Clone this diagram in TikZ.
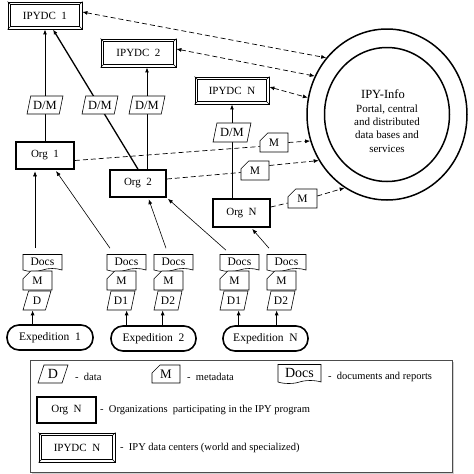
\documentclass[tikz,border=0pt]{standalone}
\usepackage{fontspec}
\setmainfont{Liberation Serif}
\usetikzlibrary{arrows.meta,shapes.geometric,shapes.misc,shapes.symbols}
\newcommand\fs[1]{\fontsize{#1}{#1}\selectfont}
\newcommand\bevelbox[1]{%
  \draw[line width=0.6pt] ([shift={(3pt,-3pt)}]#1.north west) rectangle ([shift={(-3pt,3pt)}]#1.south east);
  \draw[line width=0.5pt] (#1.north west) -- ([shift={(3pt,-3pt)}]#1.north west)
    (#1.north east) -- ([shift={(-3pt,-3pt)}]#1.north east)
    (#1.south west) -- ([shift={(3pt,3pt)}]#1.south west)
    (#1.south east) -- ([shift={(-3pt,3pt)}]#1.south east);}
\tikzset{
  tipA/.tip={Latex[length=5pt,width=4pt]},
  dcbox/.style={draw, line width=0.8pt, minimum width=74pt, minimum height=27pt, inner sep=0pt, font=\fs{11}},
  orgbox/.style={draw, line width=1.6pt, minimum width=58pt, minimum height=27pt, inner sep=0pt, font=\fs{11}},
  dmbox/.style={trapezium, trapezium left angle=70, trapezium right angle=110, trapezium stretches=true,
    draw, fill=white, line width=0.6pt, minimum width=36pt, minimum height=18pt, inner sep=0pt, font=\fs{12.5}},
  notebox/.style={chamfered rectangle, chamfered rectangle corners=north west, chamfered rectangle xsep=4pt,
    chamfered rectangle ysep=4pt, draw, fill=white, line width=0.6pt, minimum width=28pt, minimum height=19pt,
    inner sep=0pt, font=\fs{11.5}},
  docbox/.style={tape, tape bend top=none, tape bend bottom=in and out, tape bend height=3pt,
    draw, fill=white, line width=0.6pt, minimum width=39pt, minimum height=17pt, inner sep=0pt, font=\fs{11.5}},
  expbox/.style={draw, rounded corners=12pt, line width=1.6pt, minimum width=86pt, minimum height=25pt,
    inner sep=0pt, font=\fs{11.5}},
  dashln/.style={dash pattern=on 5pt off 3pt, line width=0.7pt},
  arr/.style={line width=0.9pt, -tipA},
  thinarr/.style={line width=0.6pt, -tipA, shorten >=1.5pt},
  legtext/.style={anchor=west, inner sep=0pt, font=\fs{10.5}},
}
\newcommand\stack[3]{%
  \node[docbox] (docs#1) at ({#2+19.5},261.5) {Docs};
  \node[notebox, minimum width=29pt] (m#1) at ({#2+14.5},280.5) {M};
  \node[dmbox, minimum width=28pt, minimum height=19pt, font=\fs{11.5}] (d#1) at ({#2+14},300.5) {#3};}
\begin{document}
\begin{tikzpicture}[x=1pt,y=-1pt]
\useasboundingbox (0,0) rectangle (474,474);
% data centers
\node[dcbox] (ipydc1) at (45,15.5) {IPYDC\enspace 1};
\node[dcbox, minimum width=75pt, minimum height=28pt] (ipydc2) at (138.5,53) {IPYDC\enspace 2};
\node[dcbox] (ipydcN) at (232,90.5) {IPYDC\enspace N};
\bevelbox{ipydc1}\bevelbox{ipydc2}\bevelbox{ipydcN}
% organizations
\node[orgbox] (org1) at (45,155.5) {Org\enspace 1};
\node[orgbox, minimum width=56pt] (org2) at (138,183.5) {Org\enspace 2};
\node[orgbox, minimum width=57pt, minimum height=28pt] (orgN) at (241.5,213) {Org\enspace N};
% IPY-Info
\node[ellipse, draw, line width=1.5pt, minimum width=160pt, minimum height=171pt] (info) at (387,114.5) {};
\node[ellipse, draw, line width=1.5pt, minimum width=125pt, minimum height=134pt] (infoin) at (387,114.5) {};
\node[font=\fs{12.5}] (infot) at (383,94) {IPY-Info};
\node[align=center, font=\fontsize{11}{13.3}\selectfont] (infos) at (387,128.5) {Portal, central\\and distributed\\data bases and\\services};
% org -> data center
\draw[arr] (org1.north) -- (org1.north |- ipydc1.south);
\draw[arr, line width=1.3pt] (org2.north) -- ([xshift=8pt]ipydc1.south);
\coordinate (o2a) at ([xshift=9pt]org2.north);
\draw[arr] (o2a) -- (o2a |- ipydc2.south);
\coordinate (oNa) at ([xshift=-9.5pt]orgN.north);
\draw[arr] (oNa) -- (oNa |- ipydcN.south);
\node[dmbox] (dm1) at (45,105) {D/M};
\node[dmbox] (dm2) at (100,105) {D/M};
\node[dmbox] (dm3) at (147,105) {D/M};
\node[dmbox, minimum width=38pt, minimum height=19pt] (dmN) at (232,132.5) {D/M};
% dashed links to IPY-Info
\draw[dashln, tipA-tipA] ([yshift=3.5pt]ipydc1.east) -- (info.137.7);
\draw[dashln, tipA-tipA] ([yshift=4pt]ipydc2.east) -- (info.152.5);
\draw[dashln, tipA-tipA] ([yshift=3.5pt]ipydcN.east) -- (info.168.5);
% metadata
\node[notebox] (mo1) at (274,142.5) {M};
\node[notebox] (mo2) at (255,170.5) {M};
\node[notebox, minimum width=29pt] (mo3) at (302.5,198.5) {M};
\draw[dashln] ([yshift=-5pt]org1.east) -- ([yshift=-4pt]mo1.west);
\draw[dashln, -tipA] (mo1.east) -- (info.199.4);
\draw[dashln] ([yshift=4.5pt]org2.east) -- ([yshift=-2pt]mo2.west);
\draw[dashln, -tipA] ([yshift=5pt]mo2.east) -- (info.214.2);
\draw[dashln] ([yshift=6pt]orgN.east) -- ([yshift=-4.5pt]mo3.west);
\draw[dashln, -tipA] ([yshift=2.5pt]mo3.east) -- (info.240.3);
% expeditions
\node[expbox] (exp1) at (50,337.5) {Expedition\enspace 1};
\node[expbox, minimum width=85pt] (exp2) at (153.5,338.5) {Expedition\enspace 2};
\node[expbox, minimum width=85pt] (expN) at (265.5,338.5) {Expedition\enspace N};
\stack{1}{23}{D}
\stack{2}{107}{D1}
\stack{3}{154}{D2}
\stack{4}{220}{D1}
\stack{5}{267}{D2}
\coordinate (e1) at ([xshift=10pt]d1.bottom left corner);
\draw[arr] (e1 |- exp1.north) -- (e1);
\coordinate (e2) at ([xshift=20pt]d2.bottom left corner);
\draw[arr] (e2 |- exp2.north) -- (e2);
\coordinate (e3) at ([xshift=9pt]d3.bottom left corner);
\draw[arr] (e3 |- exp2.north) -- (e3);
\coordinate (e4) at ([xshift=19pt]d4.bottom left corner);
\draw[arr] (e4 |- expN.north) -- (e4);
\coordinate (e5) at ([xshift=10pt]d5.bottom left corner);
\draw[arr] (e5 |- expN.north) -- (e5);
% docs -> org
\coordinate (s1) at ([shift={(-7.5pt,6pt)}]docs1.north);
\draw[thinarr] (s1) -- (s1 |- org1.south);
\coordinate (s2) at ([shift={(-16.5pt,6pt)}]docs2.north);
\draw[thinarr] (s2) -- ([xshift=40pt]org1.south west);
\coordinate (s3) at ([shift={(-7.5pt,6pt)}]docs3.north);
\draw[thinarr] (s3) -- ([xshift=39pt]org2.south west);
\coordinate (s4) at ([shift={(-13.5pt,4pt)}]docs4.north);
\draw[thinarr] (s4) -- (org2.south east);
\coordinate (s5) at ([shift={(-17.5pt,6pt)}]docs5.north);
\draw[thinarr] (s5) -- ([xshift=39pt]orgN.south west);
% legend
\fill[black!18] (31.5,361.5) rectangle (453.5,473.5);
\draw[fill=white, draw=black!70, line width=0.8pt] (30,360) rectangle (452,472);
\node[dmbox, minimum width=30pt, minimum height=18pt, font=\fs{14}] (legd) at (53,374) {D};
\node[legtext] (legdt) at (75,377) {-\enspace data};
\node[notebox, minimum width=28pt, minimum height=18pt, font=\fs{13}] (legm) at (166,374) {M};
\node[legtext] (legmt) at (187,377) {-\enspace metadata};
\node[docbox, minimum width=43pt, minimum height=19pt, font=\fs{14}] (legdocs) at (299.5,372.5) {Docs};
\node[legtext] (legdocst) at (328,377) {-\enspace documents and reports};
\node[orgbox, minimum width=59pt, minimum height=26pt] (legorg) at (66.5,410) {Org\enspace N};
\node[legtext] (legorgt) at (100,410) {-\enspace Organizations\enspace participating in the IPY program};
\node[dcbox, minimum width=76pt, minimum height=29pt] (legdc) at (77,447.5) {IPYDC\enspace N};
\bevelbox{legdc}
\node[legtext] (legdct) at (120,448) {-\enspace IPY data centers (world and specialized)};
\end{tikzpicture}
\end{document}
